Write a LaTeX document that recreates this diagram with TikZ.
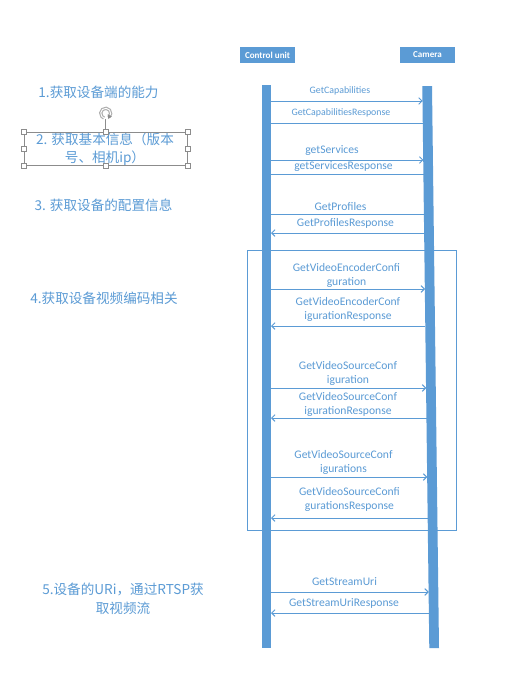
\documentclass[tikz,border=0pt]{standalone}
\usepackage{fontspec}
\setmainfont{Carlito}
\newfontfamily\cjk{Noto Sans CJK SC}
\usetikzlibrary{arrows.meta}
\definecolor{bl}{HTML}{5B9BD5}
\definecolor{gr}{HTML}{8C8C8C}
\begin{document}
\begin{tikzpicture}[x=0.75pt,y=-0.75pt,
  head/.style={fill=bl, text=white, font=\bfseries\fontsize{6.8}{7.5}\selectfont, minimum width=41.25pt, minimum height=12pt, inner sep=0pt},
  lbl/.style={text=bl, inner sep=0pt, align=center, font=\fontsize{8.7}{10.5}\selectfont},
  slbl/.style={text=bl, inner sep=0pt, align=center, font=\fontsize{7.4}{8}\selectfont},
  step label/.style={text=bl, inner sep=0pt, align=center, font=\cjk\fontsize{10.2}{13.5}\selectfont},
  req/.style={draw=bl, line width=0.75pt, -{Straight Barb[length=2.5pt,width=5pt]}},
  plain/.style={draw=bl, line width=0.75pt},
  handle/.style={draw=gr, fill=white, line width=0.6pt, minimum size=3.8pt, inner sep=0pt, rectangle}
]
\useasboundingbox (0,0) rectangle (506,693);
\fill[white] (0,0) rectangle (506,693);

% headers
\node[head] (cu) at (267.5,55) {Control unit};
\node[head] (cam) at (427.5,55) {Camera};

% section 4 frame
\draw[bl, line width=0.75pt] (247,250) rectangle (456,530);

% endpoints
\foreach \n/\y in {1/101,2/123,3/160,4/174,5/214,6/233,7/289,8/326,9/388,10/418,11/477,12/518,13/592,14/613}{
  \coordinate (L\n) at (271,\y);
  \coordinate (R\n) at ({422.5+7*(\y-86)/562},\y);
}

% messages
\draw[req] (L1) -- (R1);
\draw[plain] (R2) -- (L2);
\draw[req] (L3) -- (R3);
\draw[plain] (R4) -- (L4);
\draw[plain] (L5) -- (R5);
\draw[req] (R6) -- (L6);
\draw[req] (L7) -- (R7);
\draw[req] (R8) -- (L8);
\draw[req] (L9) -- (R9);
\draw[req] (R10) -- (L10);
\draw[req] (L11) -- (R11);
\draw[req] (R12) -- (L12);
\draw[req] (L13) -- (R13);
\draw[req] (R14) -- (L14);

% lifelines
\fill[bl] (262,85) rectangle (271,648);
\fill[bl] (422.3,86) -- (432,86) -- (439,648) -- (429.3,648) -- cycle;

% message labels
\node[slbl] (m1) at (340,91) {GetCapabilities};
\node[slbl] (m2) at (341,113) {GetCapabilitiesResponse};
\node[lbl] (m3) at (332,151) {getServices};
\node[lbl] (m4) at (343.5,167) {getServicesResponse};
\node[lbl] (m5) at (340.5,207) {GetProfiles};
\node[lbl] (m6) at (345.5,223) {GetProfilesResponse};
\node[lbl] (m7) at (346.5,275) {GetVideoEncoderConfi\\guration};
\node[lbl] (m8) at (348,309) {GetVideoEncoderConf\\igurationResponse};
\node[lbl] (m9) at (348,373.5) {GetVideoSourceConf\\iguration};
\node[lbl] (m10) at (348,404) {GetVideoSourceConf\\igurationResponse};
\node[lbl] (m11) at (343.5,462) {GetVideoSourceConf\\igurations};
\node[lbl] (m12) at (349.5,499) {GetVideoSourceConfi\\gurationsResponse};
\node[lbl] (m13) at (344.5,582) {GetStreamUri};
\node[lbl] (m14) at (344,603) {GetStreamUriResponse};

% step labels
\node[step label] (s1) at (98.5,92) {1.获取设备端的能力};
\node[step label] (s2) at (105,149) {2. 获取基本信息（版本\\号、相机ip）};
\node[step label] (s3) at (103.5,205) {3. 获取设备的配置信息};
\node[step label] (s4) at (104,298) {4.获取设备视频编码相关};
\node[step label, font=\cjk\fontsize{10.2}{14.2}\selectfont] (s5) at (123,598.5) {5.设备的URi，通过RTSP获\\取视频流};

% selection frame around step 2
\draw[gr, line width=0.75pt] (24.3,132.3) rectangle (187.7,165.7);
\coordinate (rot) at (105.7,113.3);
\draw[gr, line width=0.75pt] (105.7,119) -- (105.7,132.3);
\draw[gr!70, line width=2.4pt] ([shift={(50:5)}]rot) arc[start angle=50, end angle=-250, radius=5];
\draw[white, line width=0.7pt] ([shift={(50:5)}]rot) arc[start angle=50, end angle=-250, radius=5];
\fill[gr] ([shift={(50:5)}]rot) ++(3,-0.8) -- ++(-4.2,-2) -- ++(0.6,4.6) -- cycle;
\foreach \hx/\hy [count=\i] in {24.3/132.3,105.7/132.3,187.7/132.3,24.3/149,187.7/149,24.3/165.7,105.7/165.7,187.7/165.7}{
  \node[handle] (h\i) at (\hx,\hy) {};
}
\end{tikzpicture}
\end{document}
